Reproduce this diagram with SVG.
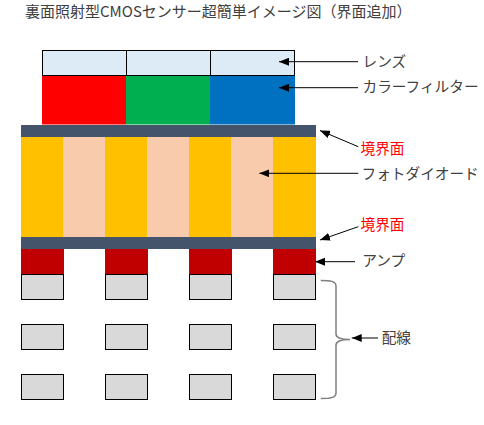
<svg xmlns="http://www.w3.org/2000/svg" width="484" height="425" viewBox="0 0 484 425">
<defs>
<style>
.t{font-family:"Noto Sans CJK JP","Noto Sans",sans-serif;font-size:14.67px;fill:#404040}
.r{fill:#FF0000}
.ln{stroke:#000;stroke-width:1;fill:none}
.wire{fill:#D9D9D9;stroke:#000;stroke-width:1}
.amp{fill:#C00000}
.or{fill:#FFC000}
.pk{fill:#F8CBAD}
.bd{fill:#44546A}
</style>
<marker id="ah" viewBox="0 0 10 8" refX="10" refY="4" markerUnits="userSpaceOnUse" markerWidth="10" markerHeight="8" orient="auto">
<path d="M0,0 L10,4 L0,8 z" fill="#000"/>
</marker>
</defs>
<rect width="484" height="425" fill="#fff"/>
<text class="t" x="25" y="17" font-size="15" style="font-size:15px">裏面照射型CMOSセンサー超簡単イメージ図（界面追加）</text>

<g id="lens">
<rect x="42.5" y="50.5" width="252" height="25" fill="#DDEBF7" stroke="#000" stroke-width="1"/>
<line x1="126.5" y1="50.5" x2="126.5" y2="75.5" class="ln"/>
<line x1="210.5" y1="50.5" x2="210.5" y2="75.5" class="ln"/>
</g>
<g id="color-filter">
<rect x="42" y="76" width="84" height="48.5" fill="#FF0000"/>
<rect x="126" y="76" width="84" height="48.5" fill="#00B050"/>
<rect x="210" y="76" width="85" height="48.5" fill="#0070C0"/>
</g>
<g id="boundary-top">
<rect class="bd" x="21" y="125" width="295" height="12"/>
</g>
<g id="photodiode">
<rect class="or" x="21" y="137" width="42" height="100"/>
<rect class="pk" x="63" y="137" width="42" height="100"/>
<rect class="or" x="105" y="137" width="42" height="100"/>
<rect class="pk" x="147" y="137" width="42" height="100"/>
<rect class="or" x="189" y="137" width="42" height="100"/>
<rect class="pk" x="231" y="137" width="42" height="100"/>
<rect class="or" x="273" y="137" width="43" height="100"/>
</g>
<g id="boundary-bottom">
<rect class="bd" x="21" y="237" width="295" height="12"/>
</g>
<g id="amp">
<rect class="amp" x="21" y="249" width="43" height="25"/>
<rect class="amp" x="105" y="249" width="43" height="25"/>
<rect class="amp" x="189" y="249" width="43" height="25"/>
<rect class="amp" x="273" y="249" width="43" height="25"/>
</g>
<g id="wiring">
<rect class="wire" x="21.5" y="274.5" width="42" height="25"/>
<rect class="wire" x="105.5" y="274.5" width="42" height="25"/>
<rect class="wire" x="189.5" y="274.5" width="42" height="25"/>
<rect class="wire" x="273.5" y="274.5" width="42" height="25"/>
<rect class="wire" x="21.5" y="324.5" width="42" height="25"/>
<rect class="wire" x="105.5" y="324.5" width="42" height="25"/>
<rect class="wire" x="189.5" y="324.5" width="42" height="25"/>
<rect class="wire" x="273.5" y="324.5" width="42" height="25"/>
<rect class="wire" x="21.5" y="374.5" width="42" height="25"/>
<rect class="wire" x="105.5" y="374.5" width="42" height="25"/>
<rect class="wire" x="189.5" y="374.5" width="42" height="25"/>
<rect class="wire" x="273.5" y="374.5" width="42" height="25"/>
</g>
<g id="brace">
<path d="M320.7,280.5 C330,280.5 336,281 336,286 L336,334 C336,338 340,339.5 350,339.5 C340,339.5 336,341 336,345 L336,393 C336,398 330,398.5 320.7,398.5" fill="none" stroke="#7F7F7F" stroke-width="1.5"/>
</g>
<g id="connectors">
<line class="ln" x1="358" y1="61.7" x2="279" y2="61.7" marker-end="url(#ah)"/>
<line class="ln" x1="358" y1="87.7" x2="279" y2="87.7" marker-end="url(#ah)"/>
<line class="ln" x1="358.3" y1="146.7" x2="320" y2="130.5" marker-end="url(#ah)"/>
<line class="ln" x1="358.3" y1="173.3" x2="259.3" y2="173.3" marker-end="url(#ah)"/>
<line class="ln" x1="358.3" y1="226.7" x2="320" y2="240" marker-end="url(#ah)"/>
<line class="ln" x1="355" y1="261.7" x2="315" y2="261.7" marker-end="url(#ah)"/>
<line class="ln" x1="378" y1="338" x2="351.7" y2="338" marker-end="url(#ah)"/>
</g>
<g id="labels">
<text class="t" x="362.5" y="67">レンズ</text>
<text class="t" x="362.5" y="92">カラーフィルター</text>
<text class="t r" x="360.5" y="154">境界面</text>
<text class="t" x="361.5" y="179">フォトダイオード</text>
<text class="t r" x="360.5" y="229.5">境界面</text>
<text class="t" x="362.3" y="266">アンプ</text>
<text class="t" x="381.7" y="343">配線</text>
</g>
</svg>
